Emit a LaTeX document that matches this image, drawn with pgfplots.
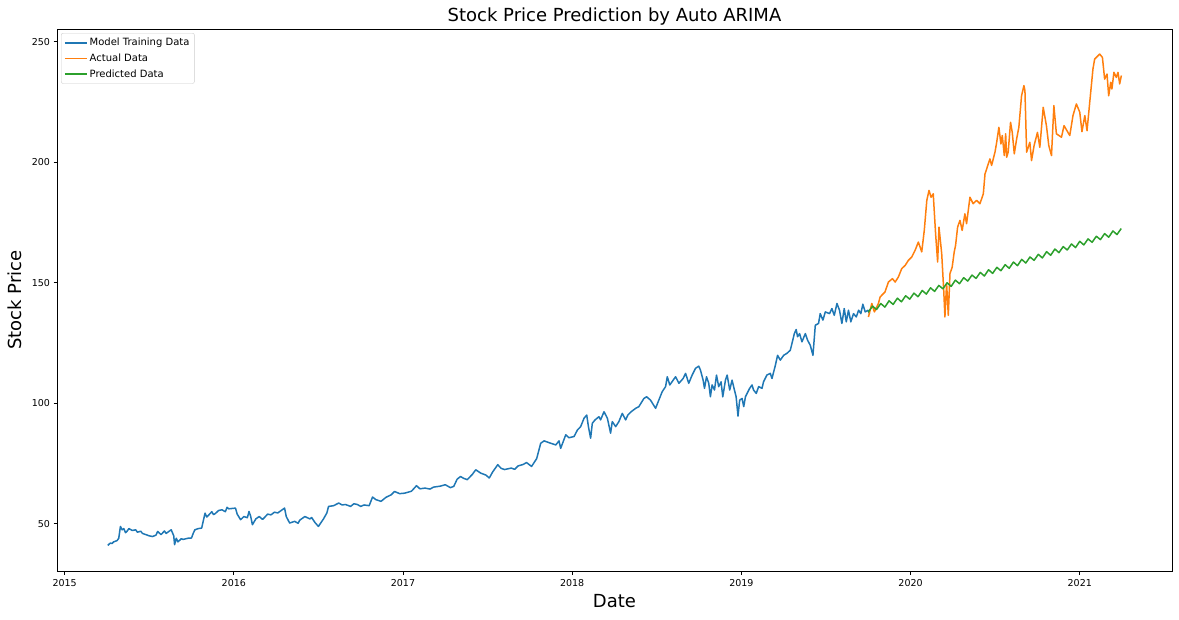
\documentclass[border=0pt]{standalone}
\usepackage{pgfplots}
\pgfplotsset{compat=1.18}
\usepackage{fontspec}
\setmainfont{DejaVu Sans}
\definecolor{tabblue}{HTML}{1F77B4}
\definecolor{taborange}{HTML}{FF7F0E}
\definecolor{tabgreen}{HTML}{2CA02C}
\begin{document}
\begin{tikzpicture}[x=1pt,y=1pt]
\path[use as bounding box] (-57pt,-48pt) rectangle (1122pt,571pt);
\begin{axis}[
  at={(0pt,0pt)}, anchor=south west,
  width=1115pt, height=542pt, scale only axis,
  xmin=2014.955, xmax=2021.545,
  ymin=30.4, ymax=255.3,
  xtick={2015,2016,2017,2018,2019,2020,2021},
  xticklabels={2015,2016,2017,2018,2019,2020,2021},
  ytick={50,100,150,200,250},
  tick pos=left,
  tick align=outside,
  major tick length=3.5pt,
  every tick/.style={black, line width=0.8pt},
  axis line style={line width=0.8pt},
  /pgf/number format/assume math mode=true,
  tick label style={font=\fontsize{9.5}{11}\selectfont},
  xticklabel style={yshift=-1pt},
  title={Stock Price Prediction by Auto ARIMA},
  title style={font=\fontsize{18}{21}\selectfont, yshift=-6pt},
  xlabel={Date},
  ylabel={Stock Price},
  label style={font=\fontsize{18}{21}\selectfont},
  xlabel style={yshift=-1pt},
  ylabel style={yshift=3pt},
  every axis plot/.append style={line width=1.5pt, line join=round},
  legend style={at={(0.0036,0.9926)}, anchor=north west, draw=black!20, rounded corners=2pt,
    font=\fontsize{10}{12}\selectfont, inner xsep=3pt, inner ysep=3pt, row sep=2.5pt},
  legend cell align=left,
  legend image code/.code={\draw[#1, line width=1.5pt] (0pt,0pt) -- (22pt,0pt);},
]
\addplot[tabblue] coordinates {
(2015.255,41.0)(2015.27,42.0)(2015.28,41.8)(2015.29,42.5)(2015.31,43.0)(2015.32,44.0)(2015.33,48.9)(2015.34,47.5)(2015.35,48.0)(2015.36,46.3)(2015.37,47.0)(2015.38,48.0)(2015.40,47.2)(2015.42,47.5)(2015.43,46.5)(2015.45,46.9)(2015.46,46.0)(2015.48,45.5)(2015.50,45.0)(2015.52,44.7)(2015.54,45.3)(2015.55,46.8)(2015.57,45.5)(2015.59,47.0)(2015.60,46.0)(2015.61,46.5)(2015.63,47.5)(2015.645,45.0)(2015.65,41.3)(2015.66,44.0)(2015.67,42.5)(2015.69,43.8)(2015.70,43.5)(2015.73,44.0)(2015.75,44.1)(2015.76,46.0)(2015.77,47.5)(2015.79,48.0)(2015.81,48.2)(2015.83,54.4)(2015.84,52.8)(2015.85,53.5)(2015.87,55.0)(2015.88,53.8)(2015.89,54.2)(2015.91,55.5)(2015.93,55.8)(2015.95,55.0)(2015.96,56.8)(2015.97,56.2)(2016.01,56.5)(2016.02,54.0)(2016.04,51.7)(2016.06,53.0)(2016.08,52.5)(2016.09,55.1)(2016.10,53.0)(2016.11,49.6)(2016.13,52.0)(2016.15,53.0)(2016.17,51.8)(2016.18,52.5)(2016.20,54.0)(2016.22,53.7)(2016.24,54.8)(2016.26,54.5)(2016.28,55.5)(2016.30,56.5)(2016.31,53.0)(2016.33,50.3)(2016.36,51.0)(2016.38,50.2)(2016.39,51.5)(2016.42,53.0)(2016.45,52.0)(2016.46,52.6)(2016.48,50.5)(2016.50,48.9)(2016.53,52.0)(2016.55,54.5)(2016.56,57.2)(2016.59,57.5)(2016.62,58.6)(2016.64,57.8)(2016.66,58.0)(2016.69,57.2)(2016.71,58.3)(2016.73,58.0)(2016.75,57.2)(2016.77,57.8)(2016.80,57.5)(2016.82,61.1)(2016.84,60.0)(2016.87,59.3)(2016.90,61.0)(2016.93,62.0)(2016.95,63.4)(2016.98,62.5)(2017.01,62.7)(2017.05,63.5)(2017.08,65.8)(2017.10,64.5)(2017.13,64.8)(2017.16,64.4)(2017.18,65.2)(2017.22,65.6)(2017.25,66.2)(2017.28,65.0)(2017.30,65.5)(2017.32,68.5)(2017.34,69.6)(2017.36,68.8)(2017.38,68.3)(2017.41,70.5)(2017.43,72.4)(2017.46,71.0)(2017.49,70.2)(2017.51,69.0)(2017.53,71.5)(2017.56,74.5)(2017.58,73.0)(2017.60,72.5)(2017.64,73.1)(2017.66,72.6)(2017.68,74.0)(2017.71,74.6)(2017.73,75.4)(2017.76,73.8)(2017.79,77.0)(2017.814,83.4)(2017.834,84.4)(2017.873,83.4)(2017.903,82.7)(2017.922,84.4)(2017.932,81.3)(2017.962,86.9)(2017.981,85.7)(2018.011,86.2)(2018.031,88.9)(2018.050,90.3)(2018.070,93.8)(2018.086,95.1)(2018.096,90.3)(2018.109,85.5)(2018.119,91.7)(2018.135,93.1)(2018.158,94.4)(2018.168,93.1)(2018.188,96.5)(2018.208,93.8)(2018.227,87.6)(2018.237,92.4)(2018.257,90.3)(2018.276,92.4)(2018.296,95.8)(2018.316,93.1)(2018.329,95.1)(2018.349,96.5)(2018.375,97.9)(2018.394,98.6)(2018.424,102.0)(2018.440,102.7)(2018.463,101.3)(2018.493,97.9)(2018.512,101.3)(2018.532,104.8)(2018.552,106.9)(2018.562,111.0)(2018.577,107.6)(2018.597,109.6)(2018.611,111.0)(2018.631,108.3)(2018.656,110.3)(2018.670,112.4)(2018.689,108.3)(2018.709,111.7)(2018.729,114.5)(2018.748,115.4)(2018.758,113.8)(2018.774,109.6)(2018.782,106.2)(2018.794,111.0)(2018.807,108.3)(2018.817,102.7)(2018.827,107.6)(2018.841,105.5)(2018.853,111.7)(2018.866,106.9)(2018.880,108.9)(2018.890,102.7)(2018.906,109.6)(2018.916,111.7)(2018.931,105.5)(2018.945,109.6)(2018.959,105.5)(2018.969,102.7)(2018.980,94.7)(2018.990,101.3)(2019.004,102.0)(2019.014,98.6)(2019.024,102.7)(2019.049,106.2)(2019.063,107.6)(2019.072,105.5)(2019.088,104.1)(2019.102,106.9)(2019.122,106.2)(2019.131,108.9)(2019.151,111.7)(2019.171,112.4)(2019.181,110.3)(2019.201,115.8)(2019.214,119.9)(2019.230,117.9)(2019.250,119.9)(2019.269,120.7)(2019.289,122.0)(2019.299,124.8)(2019.313,128.9)(2019.324,130.6)(2019.332,127.6)(2019.344,128.9)(2019.358,125.5)(2019.378,128.9)(2019.391,126.2)(2019.407,124.1)(2019.423,119.9)(2019.437,132.4)(2019.456,133.1)(2019.466,137.2)(2019.482,134.5)(2019.496,137.9)(2019.521,137.2)(2019.535,139.3)(2019.549,136.5)(2019.565,141.4)(2019.580,138.6)(2019.594,133.1)(2019.608,139.3)(2019.620,133.8)(2019.633,138.6)(2019.647,133.8)(2019.663,137.2)(2019.679,135.8)(2019.693,138.6)(2019.706,137.2)(2019.718,141.1)(2019.732,137.9)(2019.748,138.6)(2019.758,137.2)
};
\addlegendentry{Model Training Data}
\addplot[taborange] coordinates {
(2019.751,135.8)(2019.771,141.4)(2019.786,137.9)(2019.810,141.4)(2019.820,144.1)(2019.849,146.2)(2019.869,150.3)(2019.893,151.7)(2019.909,150.3)(2019.928,152.4)(2019.948,155.9)(2019.968,157.2)(2019.987,159.3)(2020.007,160.7)(2020.027,163.5)(2020.046,166.9)(2020.066,162.8)(2020.081,171.7)(2020.096,184.2)(2020.109,188.3)(2020.121,185.5)(2020.134,186.9)(2020.148,170.3)(2020.160,158.6)(2020.168,173.1)(2020.184,162.1)(2020.196,146.9)(2020.203,135.8)(2020.213,149.7)(2020.223,136.5)(2020.233,153.8)(2020.246,156.5)(2020.258,162.8)(2020.266,165.5)(2020.278,173.1)(2020.292,175.9)(2020.305,171.7)(2020.321,178.6)(2020.331,174.5)(2020.351,185.5)(2020.370,182.8)(2020.390,184.2)(2020.410,182.8)(2020.430,186.9)(2020.440,195.2)(2020.450,197.3)(2020.469,201.4)(2020.479,198.7)(2020.499,204.2)(2020.509,208.3)(2020.522,214.5)(2020.534,207.6)(2020.542,211.1)(2020.554,202.8)(2020.562,211.8)(2020.568,202.1)(2020.577,204.2)(2020.591,216.6)(2020.601,212.4)(2020.613,203.5)(2020.627,209.7)(2020.640,214.5)(2020.656,227.6)(2020.670,231.8)(2020.676,229.7)(2020.686,204.2)(2020.705,208.3)(2020.715,200.7)(2020.730,206.9)(2020.750,212.4)(2020.764,206.2)(2020.784,222.8)(2020.803,215.2)(2020.817,206.9)(2020.833,202.8)(2020.847,223.5)(2020.862,211.8)(2020.892,210.4)(2020.907,215.2)(2020.941,211.1)(2020.960,219.4)(2020.980,224.2)(2021.000,220.8)(2021.013,212.7)(2021.030,219.4)(2021.043,213.1)(2021.059,224.9)(2021.078,238.7)(2021.088,242.8)(2021.118,244.9)(2021.134,243.5)(2021.147,234.5)(2021.161,236.6)(2021.171,227.6)(2021.183,233.2)(2021.190,230.4)(2021.202,237.3)(2021.216,235.2)(2021.226,237.3)(2021.236,232.5)(2021.246,236.0)
};
\addlegendentry{Actual Data}
\addplot[tabgreen] coordinates {
(2019.750,137.8)(2019.775,140.3)(2019.799,138.9)(2019.824,141.4)(2019.848,139.9)(2019.873,142.5)(2019.897,141.0)(2019.922,143.6)(2019.946,142.1)(2019.971,144.6)(2019.995,143.2)(2020.020,145.7)(2020.044,144.2)(2020.069,146.8)(2020.093,145.3)(2020.118,147.9)(2020.142,146.4)(2020.167,148.9)(2020.191,147.5)(2020.216,150.0)(2020.240,148.5)(2020.265,151.1)(2020.289,149.6)(2020.314,152.1)(2020.338,150.7)(2020.363,153.2)(2020.387,151.8)(2020.412,154.3)(2020.436,152.8)(2020.461,155.4)(2020.485,153.9)(2020.510,156.4)(2020.534,155.0)(2020.559,157.5)(2020.583,156.0)(2020.608,158.6)(2020.632,157.1)(2020.657,159.7)(2020.681,158.2)(2020.706,160.7)(2020.730,159.3)(2020.755,161.8)(2020.779,160.3)(2020.804,162.9)(2020.828,161.4)(2020.853,164.0)(2020.877,162.5)(2020.902,165.0)(2020.926,163.6)(2020.951,166.1)(2020.975,164.6)(2021.000,167.2)(2021.024,165.7)(2021.049,168.2)(2021.073,166.8)(2021.098,169.3)(2021.122,167.9)(2021.147,170.4)(2021.171,168.9)(2021.196,171.5)(2021.220,170.0)(2021.245,172.5)
};
\addlegendentry{Predicted Data}
\end{axis}
\end{tikzpicture}
\end{document}
